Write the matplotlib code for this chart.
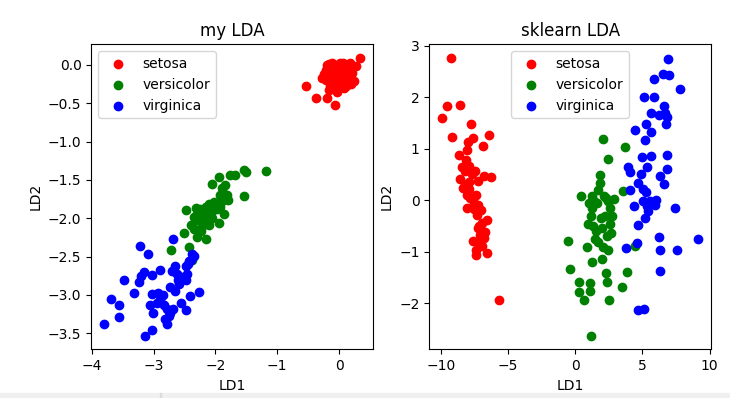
import matplotlib
matplotlib.use("Agg")
import matplotlib.pyplot as plt
from matplotlib.patches import Rectangle

# my LDA
my_setosa_x = [-0.53, -0.38, -0.19, -0.07, 0.34, -0.19, -0.11, 0.02, 0.17, 0.27,
               -0.25, -0.08, 0.08, 0.21, -0.27, -0.14, 0.02, 0.13, 0.24, -0.14,
               -0.03, 0.11, 0.19, -0.17, -0.03, -0.22, 0.11, -0.15, -0.05, 0.05,
               0.12, -0.20, -0.10, 0.00, 0.10, 0.18, -0.22, -0.08, 0.05, 0.15,
               -0.12, 0.00, 0.08, -0.05, 0.03, 0.20, -0.17, 0.07, -0.02, 0.14]
my_setosa_y = [-0.27, -0.43, -0.43, -0.52, 0.09, 0.00, 0.02, 0.03, 0.03, -0.01,
               -0.12, -0.08, -0.06, -0.11, -0.17, -0.19, -0.19, -0.17, -0.21, -0.28,
               -0.30, -0.28, -0.25, -0.33, -0.35, -0.06, -0.01, -0.05, -0.02, 0.00,
               -0.04, -0.10, -0.12, -0.10, -0.13, -0.15, -0.20, -0.22, -0.22, -0.20,
               -0.25, -0.26, -0.30, -0.15, -0.14, -0.05, 0.01, 0.02, -0.05, -0.09]

my_versicolor_x = [-1.18, -1.54, -1.51, -1.69, -1.77, -1.94, -2.06, -1.84, -1.89, -1.86,
                   -1.81, -1.92, -1.54, -1.79, -2.11, -2.03, -1.94, -1.92, -2.08, -2.16,
                   -2.48, -2.32, -2.27, -2.21, -2.35, -2.29, -1.86, -2.11, -1.94, -2.40,
                   -2.35, -2.24, -2.51, -2.29, -2.16, -2.43, -2.72, -2.38, -2.25, -2.18,
                   -2.05, -2.00, -2.12, -2.30, -2.20, -2.15, -1.98, -2.22, -2.05, -1.90]
my_versicolor_y = [-1.38, -1.37, -1.39, -1.43, -1.44, -1.46, -1.55, -1.57, -1.61, -1.68,
                   -1.70, -1.70, -1.71, -1.76, -1.81, -1.79, -1.82, -1.85, -1.87, -1.85,
                   -1.89, -1.87, -1.92, -1.96, -1.98, -2.02, -1.95, -2.09, -2.06, -2.09,
                   -2.14, -2.16, -2.19, -2.24, -2.27, -2.38, -2.41, -2.55, -1.88, -1.93,
                   -1.90, -1.83, -1.98, -1.95, -2.05, -1.85, -1.88, -2.10, -2.00, -1.78]

my_virginica_x = [-2.68, -3.22, -3.09, -2.38, -2.35, -2.40, -2.44, -2.47, -2.66, -2.90,
                  -3.15, -3.21, -3.02, -2.70, -2.62, -2.54, -2.46, -3.47, -3.24, -2.59,
                  -2.48, -2.74, -2.27, -3.32, -3.02, -2.92, -2.41, -3.68, -2.89, -2.83,
                  -3.56, -3.05, -2.55, -2.78, -2.69, -2.48, -3.01, -2.73, -2.75, -3.56,
                  -2.81, -2.78, -3.80, -3.02, -3.14, -2.85, -2.60, -2.95, -2.42, -2.65]
my_virginica_y = [-2.27, -2.36, -2.47, -2.46, -2.49, -2.54, -2.59, -2.62, -2.62, -2.67,
                  -2.70, -2.75, -2.74, -2.69, -2.73, -2.77, -2.73, -2.81, -2.83, -2.86,
                  -2.81, -2.90, -2.96, -2.98, -2.99, -2.98, -3.01, -3.05, -3.07, -3.13,
                  -3.13, -3.13, -3.10, -3.18, -3.18, -3.19, -3.23, -3.23, -3.27, -3.29,
                  -3.32, -3.38, -3.38, -3.46, -3.53, -3.00, -2.80, -3.10, -2.56, -2.95]

# sklearn LDA
sk_setosa_x = [-9.23, -9.50, -8.60, -9.90, -7.73, -9.13, -7.63, -6.43, -8.00, -6.88,
               -8.05, -8.68, -8.10, -8.43, -7.93, -7.43, -8.18, -6.30, -6.80, -8.60,
               -7.25, -8.35, -7.93, -8.05, -7.80, -7.25, -8.05, -7.55, -7.30, -6.55,
               -6.93, -7.18, -6.93, -7.10, -6.80, -7.60, -7.18, -7.35, -6.55, -7.35,
               -5.68, -7.90, -7.50, -7.00, -7.20, -6.90, -7.70, -8.20, -7.40, -6.70]
sk_setosa_y = [2.76, 1.82, 1.85, 1.59, 1.48, 1.23, 1.21, 1.26, 1.13, 1.05,
               0.98, 0.88, 0.78, 0.65, 0.67, 0.57, 0.56, 0.45, 0.47, 0.42,
               0.37, 0.24, 0.21, 0.10, 0.05, -0.10, -0.15, -0.18, -0.28, -0.38,
               -0.45, -0.51, -0.60, -0.68, -0.74, -0.79, -0.84, -0.97, -1.02, -1.07,
               -1.94, 0.35, -0.05, -0.20, -0.55, -0.90, 0.50, 0.30, 0.10, -0.62]

sk_versicolor_x = [2.10, 3.70, 2.45, 1.83, 1.83, 3.53, 0.40, 1.25, 2.13, 2.90,
                   1.40, 2.45, 1.25, 2.58, 2.20, 1.95, 0.95, 1.33, 1.58, 2.58,
                   2.65, -0.50, 0.90, 1.70, 2.08, 2.45, 4.45, 1.28, 2.00, -0.35,
                   2.28, 3.88, 0.25, 1.08, 2.38, 3.45, 0.25, 1.08, 0.65, 2.53,
                   1.15, 1.60, 2.00, 1.20, 2.30, 1.50, 2.70, 1.70, 1.00, 2.40]
sk_versicolor_y = [1.19, 1.04, 0.80, 0.49, 0.34, 0.18, 0.09, 0.09, 0.09, 0.03,
                   -0.02, -0.01, -0.15, -0.15, -0.31, -0.35, -0.47, -0.51, -0.60, -0.47,
                   -0.64, -0.79, -0.91, -0.81, -0.91, -0.97, -0.89, -1.20, -1.15, -1.33,
                   -1.42, -1.40, -1.58, -1.61, -1.58, -1.68, -1.79, -1.76, -1.94, -1.94,
                   -2.63, -0.05, -0.55, -0.30, 0.05, -0.75, -0.30, 0.20, -0.05, -0.70]

sk_virginica_x = [6.88, 6.50, 6.95, 5.88, 7.83, 5.13, 5.83, 6.63, 5.65, 6.25,
                  6.70, 6.83, 6.78, 4.45, 5.25, 5.65, 5.20, 4.95, 5.65, 6.83,
                  5.35, 3.95, 4.08, 6.83, 6.33, 4.70, 6.58, 5.03, 4.08, 5.08,
                  5.58, 5.95, 5.33, 4.40, 7.45, 5.45, 5.20, 4.70, 6.25, 9.15,
                  4.58, 3.78, 6.33, 7.58, 6.33, 4.70, 5.15, 5.30, 6.00, 4.90]
sk_virginica_y = [2.74, 2.45, 2.43, 2.36, 2.15, 2.00, 2.01, 1.82, 1.69, 1.65,
                  1.70, 1.61, 1.47, 1.36, 1.48, 1.33, 1.16, 0.83, 0.85, 0.87,
                  0.65, 0.64, 0.54, 0.60, 0.47, 0.34, 0.32, 0.21, 0.19, -0.02,
                  -0.01, -0.09, -0.12, -0.12, -0.16, -0.22, -0.35, -0.49, -0.71, -0.75,
                  -0.84, -0.93, -0.97, -0.97, -1.38, -2.14, -2.12, 0.15, 0.00, 0.50]

labels = ["setosa", "versicolor", "virginica"]
colors = ["red", "green", "blue"]

fig, (ax1, ax2) = plt.subplots(1, 2, figsize=(7.3, 3.98), dpi=100)
fig.subplots_adjust(left=0.125, right=0.974, bottom=0.122, top=0.889, wspace=0.2)

my_x = [my_setosa_x, my_versicolor_x, my_virginica_x]
my_y = [my_setosa_y, my_versicolor_y, my_virginica_y]
for xs, ys, c, lab in zip(my_x, my_y, colors, labels):
    ax1.scatter(xs, ys, c=c, label=lab)
ax1.set_title("my LDA")
ax1.set_xlabel("LD1")
ax1.set_ylabel("LD2")
ax1.legend(loc="upper left")

sk_x = [sk_setosa_x, sk_versicolor_x, sk_virginica_x]
sk_y = [sk_setosa_y, sk_versicolor_y, sk_virginica_y]
for xs, ys, c, lab in zip(sk_x, sk_y, colors, labels):
    ax2.scatter(xs, ys, c=c, label=lab)
ax2.set_title("sklearn LDA")
ax2.set_xlabel("LD1")
ax2.set_ylabel("LD2")
ax2.legend(loc="upper center")

# grey strip at the very bottom of the screenshot
fig.patches.append(Rectangle((0, 0), 1, 5.5 / 398, transform=fig.transFigure,
                             color="#f0f0f0", zorder=-1))
fig.patches.append(Rectangle((160 / 730, 0), 1 / 730, 5.5 / 398, transform=fig.transFigure,
                             color="#dcdcdc", zorder=-1))

plt.savefig("out.png")
